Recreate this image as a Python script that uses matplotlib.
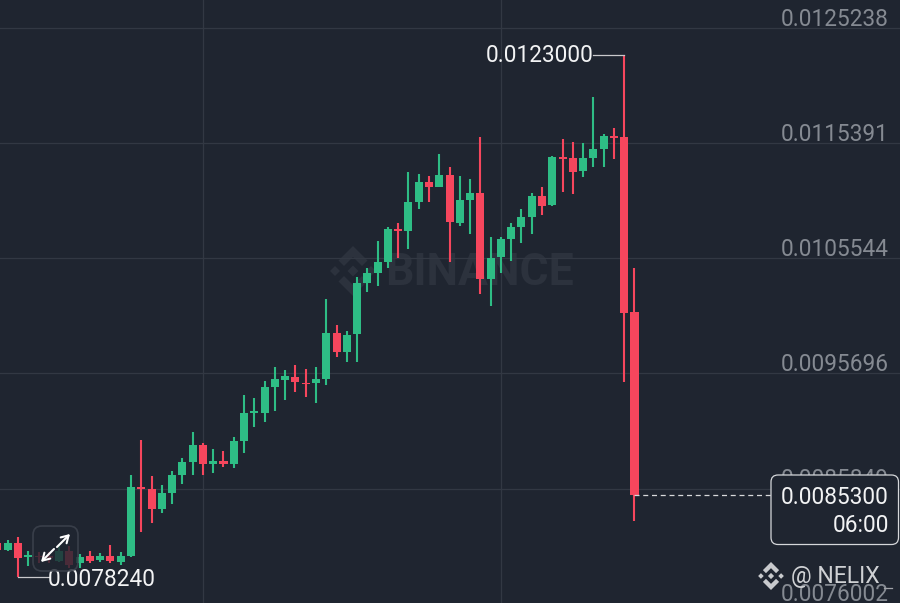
'''
Binance style candlestick chart with price labels drawn inside the plot area.
'''

# ================ PyLib imports ================
import numpy as np
import matplotlib
matplotlib.use("Agg")
import matplotlib.pyplot as plt
from matplotlib.patches import FancyBboxPatch, Polygon

# ================ Global variables ================
_COLOR_BG    = "#1f2530"
_COLOR_GRID  = "#323843"
_COLOR_UP    = "#2ebd85"
_COLOR_DOWN  = "#f6465d"
_COLOR_AXIS  = "#858a92"
_COLOR_WHITE = "#f2f3f4"
_COLOR_MARK  = "#2c323d"
_LABEL_SIZE  = 16.3

plt.rcParams["font.family"] = ["Roboto", "DejaVu Sans"]

# ================ Data ================
opens = [
    0.0081182, 0.0080583, 0.0081157, 0.0080009, 0.0080069, 0.0080069, 0.0079667, 0.0080523,
    0.0079444, 0.0080095, 0.0079727, 0.0080069, 0.0079581, 0.0080069, 0.0085952, 0.0085781,
    0.0084068, 0.0085438, 0.0087005, 0.0088144, 0.0089574, 0.0087947, 0.0088229, 0.0087947,
    0.0089942, 0.0092339, 0.0092339, 0.0094566, 0.0095139, 0.0095422, 0.0094908, 0.0094857,
    0.0095225, 0.0099138, 0.0097563, 0.0099053, 0.0103471, 0.0104276, 0.0105218, 0.0108043,
    0.0107898, 0.0110355, 0.0112093, 0.0111639, 0.0112693, 0.0108608, 0.0110552, 0.0111126,
    0.0103788, 0.0105697, 0.0107187, 0.0108266, 0.0109122, 0.0110895, 0.0110124, 0.0114208,
    0.0114123, 0.0113061, 0.0114174, 0.0114919, 0.0116032, 0.0115972, 0.0100936,
]
highs = [
    0.0081268, 0.0081439, 0.0081696, 0.0080523, 0.0080437, 0.0080412, 0.0081011, 0.0080925,
    0.0080215, 0.0080523, 0.0080326, 0.0080985, 0.0080412, 0.0087005, 0.0090002, 0.0086945,
    0.0086149, 0.0087373, 0.0088435, 0.0090661, 0.0089771, 0.0089206, 0.0089086, 0.0090233,
    0.0093855, 0.0093572, 0.0095079, 0.0096278, 0.0095996, 0.0096398, 0.0096081, 0.0096278,
    0.0102075, 0.0099849, 0.0099361, 0.0103985, 0.0104730, 0.0107041, 0.0108215, 0.0108557,
    0.0112924, 0.0112778, 0.0112607, 0.0114491, 0.0113352, 0.0112607, 0.0112325, 0.0115921,
    0.0107410, 0.0107410, 0.0108557, 0.0109756, 0.0111152, 0.0111691, 0.0114320, 0.0115801,
    0.0115544, 0.0115459, 0.0119397, 0.0116203, 0.0116691, 0.0123000, 0.0104755,
]
lows = [
    0.0080497, 0.0080497, 0.0078240, 0.0079239, 0.0079470, 0.0079470, 0.0079555, 0.0079042,
    0.0079016, 0.0079444, 0.0079530, 0.0079444, 0.0079324, 0.0080009, 0.0082150, 0.0082921,
    0.0083725, 0.0084496, 0.0086234, 0.0087005, 0.0087005, 0.0087202, 0.0087716, 0.0087579,
    0.0088863, 0.0091141, 0.0091569, 0.0092485, 0.0093427, 0.0094086, 0.0093709, 0.0093196,
    0.0094711, 0.0097135, 0.0096706, 0.0096706, 0.0102700, 0.0103214, 0.0104704, 0.0105560,
    0.0106356, 0.0109807, 0.0110355, 0.0111639, 0.0105218, 0.0108326, 0.0107615, 0.0102503,
    0.0101476, 0.0104276, 0.0105355, 0.0106896, 0.0107615, 0.0109268, 0.0110064, 0.0111263,
    0.0111040, 0.0112547, 0.0113403, 0.0113403, 0.0114063, 0.0094994, 0.0083066,
]
closes = [
    0.0080583, 0.0081157, 0.0079924, 0.0080155, 0.0079958, 0.0079898, 0.0080523, 0.0079299,
    0.0080009, 0.0079641, 0.0080069, 0.0079641, 0.0080069, 0.0085952, 0.0085806, 0.0084068,
    0.0085438, 0.0087005, 0.0088092, 0.0089574, 0.0087947, 0.0088229, 0.0087947, 0.0089942,
    0.0092339, 0.0092511, 0.0094566, 0.0095199, 0.0095482, 0.0094968, 0.0094771, 0.0095199,
    0.0099138, 0.0097563, 0.0098993, 0.0103471, 0.0104276, 0.0105218, 0.0108069, 0.0107872,
    0.0110355, 0.0112093, 0.0111639, 0.0112693, 0.0108643, 0.0110552, 0.0111126, 0.0103788,
    0.0105611, 0.0107187, 0.0108266, 0.0109122, 0.0110895, 0.0110064, 0.0114260, 0.0114037,
    0.0112975, 0.0114123, 0.0114893, 0.0116032, 0.0115887, 0.0100902, 0.0085300,
]
price_ticks  = [0.0125238, 0.0115391, 0.0105544, 0.0095696, 0.0085849, 0.0076002]
price_labels = ["0.0125238", "0.0115391", "0.0105544", "0.0095696", "0.0085849", "0.0076002"]
time_grid    = [20, 49]
price_high   = 0.0123000
price_low    = 0.0078240
price_last   = 0.0085300
countdown    = "06:00"


# ================================================================================
# Helpers
# ================================================================================

def draw_logo(ax, cx, cy, r, color, zorder=1):
    '''Binance mark: centre and side diamonds plus top and bottom chevrons.'''
    def diamond(x, y, s):
        ax.add_patch(Polygon([(x - s, y), (x, y - s), (x + s, y), (x, y + s)],
                             closed=True, color=color, lw=0, zorder=zorder))

    diamond(cx, cy, 0.22 * r)
    diamond(cx - 0.72 * r, cy, 0.2 * r)
    diamond(cx + 0.72 * r, cy, 0.2 * r)
    for sign in (-1, 1):
        pts = [
            (cx, cy + sign * r),
            (cx + 0.58 * r, cy + sign * 0.42 * r),
            (cx + 0.36 * r, cy + sign * 0.2 * r),
            (cx, cy + sign * 0.56 * r),
            (cx - 0.36 * r, cy + sign * 0.2 * r),
            (cx - 0.58 * r, cy + sign * 0.42 * r),
        ]
        ax.add_patch(Polygon(pts, closed=True, color=color, lw=0, zorder=zorder))


def pixel_axes(fig, zorder):
    '''Full-figure overlay axes addressed in image pixels.'''
    ax = fig.add_axes([0, 0, 1, 1], zorder=zorder)
    ax.set_xlim(0, 900)
    ax.set_ylim(603, 0)
    ax.axis("off")
    return ax


# ================================================================================
# Figure
# ================================================================================

fig = plt.figure(figsize=(9.0, 6.03), dpi=100, facecolor=_COLOR_BG)

# -------- 1. Watermark below the candles --------
ax_back = pixel_axes(fig, 0)
draw_logo(ax_back, 353, 271, 25, _COLOR_MARK)
ax_back.text(385, 273, "BINANCE", color=_COLOR_MARK, fontsize=32, fontweight="bold",
             ha="left", va="center")

# -------- 2. Price axes --------
ax = fig.add_axes([0, 0, 1, 1], zorder=1)
ax.patch.set_alpha(0)
ax.set_xlim(0.248, 87.84)
ax.set_ylim(0.0076045, 0.0127677)
for side in ax.spines.values():
    side.set_visible(False)
ax.xaxis.set_visible(False)
ax.yaxis.set_visible(False)

for t in price_ticks:
    ax.axhline(t, color=_COLOR_GRID, lw=0.9, zorder=1)
for t in time_grid:
    ax.axvline(t, color=_COLOR_GRID, lw=0.9, zorder=1)

o = np.array(opens)
h = np.array(highs)
l = np.array(lows)
c = np.array(closes)
idx = np.arange(o.size)
colors = np.where(c >= o, _COLOR_UP, _COLOR_DOWN)

ax.vlines(idx, l, h, colors=colors, lw=1.5, zorder=3)
ax.bar(idx, np.abs(c - o), bottom=np.minimum(o, c), width=0.78, color=colors, lw=0, zorder=4)

# -------- 3. Price scale labels --------
for t, s in zip(price_ticks, price_labels):
    ax.annotate(s, xy=(1, t), xycoords=("axes fraction", "data"), xytext=(-8, 6.6),
                textcoords="offset points", ha="right", va="center",
                color=_COLOR_AXIS, fontsize=_LABEL_SIZE, zorder=2)

# -------- 4. High / low callouts and last price --------
i_hi = int(np.argmax(h))
i_lo = int(np.argmin(l))
ax.plot([i_hi - 3, i_hi], [price_high, price_high], color="#c9c9cc", lw=0.9, zorder=5)
ax.plot([i_lo, i_lo + 3], [price_low, price_low], color="#c9c9cc", lw=0.9, zorder=5)
ax.annotate(f"{price_high:.7f}", xy=(i_hi - 3, price_high), xytext=(0, -0.7),
            textcoords="offset points", ha="right", va="center",
            color=_COLOR_WHITE, fontsize=_LABEL_SIZE, zorder=6)
ax.annotate(f"{price_low:.7f}", xy=(i_lo + 3, price_low), xytext=(-0.5, -1.6),
            textcoords="offset points", ha="left", va="center",
            color=_COLOR_WHITE, fontsize=_LABEL_SIZE, zorder=6)
ax.plot([idx[-1], 75.3], [price_last, price_last], color="#d8d9db", lw=0.9,
        linestyle=(0, (4, 3)), zorder=5)

# -------- 5. Overlays addressed in pixels --------
ax_front = pixel_axes(fig, 2)

ax_front.add_patch(FancyBboxPatch((771, 475), 127.5, 69.5, boxstyle="round,pad=0,rounding_size=7",
                                  fc=_COLOR_BG, ec="#d5d7da", lw=0.9, zorder=3))
ax_front.text(889, 498, f"{price_last:.7f}", color=_COLOR_WHITE, fontsize=_LABEL_SIZE,
              ha="right", va="center", zorder=4)
ax_front.text(889, 526, countdown, color=_COLOR_WHITE, fontsize=_LABEL_SIZE,
              ha="right", va="center", zorder=4)

# Expand button sits on top of the oldest candles
ax_front.add_patch(FancyBboxPatch((33, 526), 45, 45, boxstyle="round,pad=0,rounding_size=9",
                                  fc=_COLOR_BG, alpha=0.8, ec="#3f4550", lw=1.2, zorder=2))
for tip, tail in (((70, 534), (57, 547)), ((41, 562), (54, 549))):
    ax_front.annotate("", xy=tip, xytext=tail, zorder=3,
                      arrowprops=dict(arrowstyle="->,head_length=0.5,head_width=0.3",
                                      color="white", lw=1.5, shrinkA=0, shrinkB=0))

# Author tag
draw_logo(ax_front, 771, 576, 14, "#c8cacd", zorder=5)
ax_front.text(791, 576, "@ NELIX", color="#cfd1d4", fontsize=16.6, ha="left", va="center", zorder=5)
ax_front.plot([884, 892], [588, 588], color="#a0a3a8", lw=0.9, zorder=5)

fig.savefig("out.png", dpi=100, facecolor=_COLOR_BG)
